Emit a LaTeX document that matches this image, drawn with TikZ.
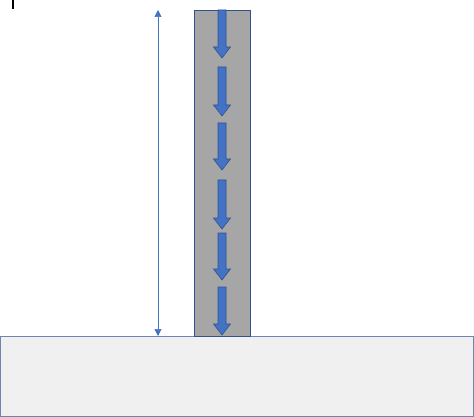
\documentclass[tikz,border=0pt]{standalone}
\usepackage{tikz}
\usetikzlibrary{arrows.meta,calc}
\definecolor{pilegray}{HTML}{A6A6A6}
\definecolor{soilgray}{HTML}{F0F0F0}
\definecolor{flowblue}{HTML}{4472C4}
\definecolor{edgeblue}{HTML}{2F528F}
\tikzstyle{pile}=[
  draw=edgeblue,fill=pilegray,line width=0.9
]
\tikzstyle{soil}=[
  draw=edgeblue!70,fill=soilgray,line width=1
]
\tikzstyle{flow}=[
  draw=edgeblue,fill=flowblue,line width=0.6
]
\tikzstyle{dim}=[
  draw=flowblue,line width=0.7,{Triangle[length=7pt,width=7pt]}-{Triangle[length=7pt,width=7pt]}
]

\begin{document}
\begin{tikzpicture}[x=1pt,y=-1pt]
    \useasboundingbox (0,0) rectangle (474,417);
    \draw [soil] (0.5,336) rectangle (473.5,416.5);
    \draw [pile] (194,10) rectangle (250,336);
    % arrows down the pile
    \foreach \a/\b in {10/58,67/116,123/170,180/229,233/280,287/335}{
      \draw [flow] (218,\a) -- (226,\a) -- (226,{\b-11}) -- (230.5,{\b-11})
        -- (222,\b) -- (213.5,{\b-11}) -- (218,{\b-11}) -- cycle;
    }
    \coordinate (top) at (158,10);
    \coordinate (bot) at (158,336);
    \draw [dim] (top) -- (bot);
    \draw [line width=2.2] (13,0) -- (13,9);
\end{tikzpicture}
\end{document}
